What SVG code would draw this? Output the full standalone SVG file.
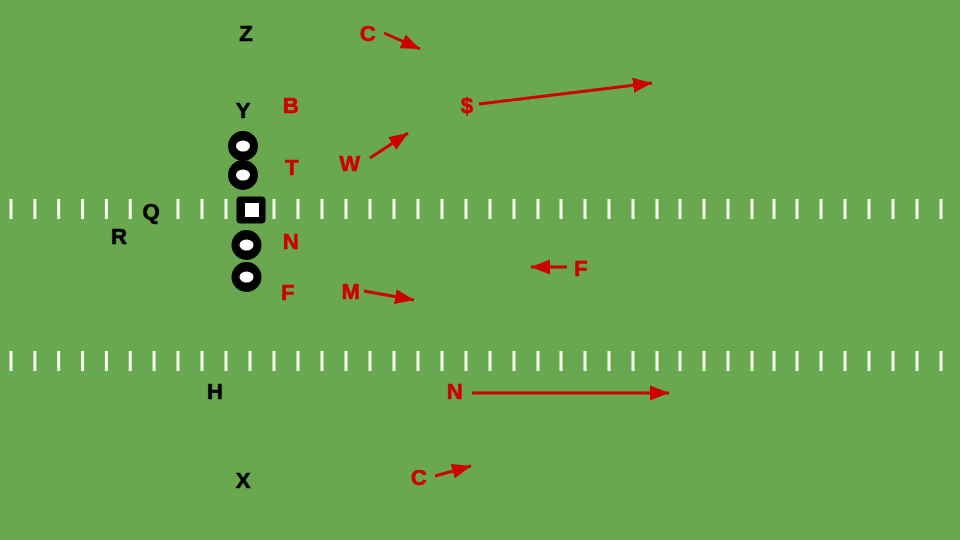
<svg xmlns="http://www.w3.org/2000/svg" width="960" height="540" viewBox="0 0 960 540">
<defs>
<style>
.t{font-family:"Liberation Sans",Arial,sans-serif;font-weight:bold;font-size:22px;text-anchor:middle;stroke-width:0.6}
.k{fill:#000;stroke:#000}
.r{fill:#cc0000;stroke:#cc0000}
.h{stroke:#f6fff0;stroke-width:3}
.a{stroke:#cc0000;stroke-width:3;fill:none;marker-end:url(#ah)}
.ring{fill:#000}
.hole{fill:#fff}
</style>
<marker id="ah" markerUnits="userSpaceOnUse" markerWidth="22" markerHeight="16" refX="19" refY="7.5" orient="auto" viewBox="0 0 22 15">
<path d="M0,0 L19,7.5 L0,15 Z" fill="#cc0000"/>
</marker>
</defs>
<rect x="0" y="0" width="960" height="540" fill="#6aa84f"/>
<g id="hashes">
<g id="hash-upper">
<line class="h" x1="11" y1="199" x2="11" y2="219"/>
<line class="h" x1="34.85" y1="199" x2="34.85" y2="219"/>
<line class="h" x1="58.7" y1="199" x2="58.7" y2="219"/>
<line class="h" x1="82.55" y1="199" x2="82.55" y2="219"/>
<line class="h" x1="106.4" y1="199" x2="106.4" y2="219"/>
<line class="h" x1="130.25" y1="199" x2="130.25" y2="219"/>
<line class="h" x1="178" y1="199" x2="178" y2="219"/>
<line class="h" x1="202" y1="199" x2="202" y2="219"/>
<line class="h" x1="226" y1="199" x2="226" y2="219"/>
<line class="h" x1="250" y1="199" x2="250" y2="219"/>
<line class="h" x1="274" y1="199" x2="274" y2="219"/>
<line class="h" x1="298" y1="199" x2="298" y2="219"/>
<line class="h" x1="322" y1="199" x2="322" y2="219"/>
<line class="h" x1="346" y1="199" x2="346" y2="219"/>
<line class="h" x1="370" y1="199" x2="370" y2="219"/>
<line class="h" x1="394" y1="199" x2="394" y2="219"/>
<line class="h" x1="418" y1="199" x2="418" y2="219"/>
<line class="h" x1="442" y1="199" x2="442" y2="219"/>
<line class="h" x1="466" y1="199" x2="466" y2="219"/>
<line class="h" x1="490" y1="199" x2="490" y2="219"/>
<line class="h" x1="514" y1="199" x2="514" y2="219"/>
<line class="h" x1="538" y1="199" x2="538" y2="219"/>
<line class="h" x1="561" y1="199" x2="561" y2="219"/>
<line class="h" x1="585" y1="199" x2="585" y2="219"/>
<line class="h" x1="609" y1="199" x2="609" y2="219"/>
<line class="h" x1="633" y1="199" x2="633" y2="219"/>
<line class="h" x1="657" y1="199" x2="657" y2="219"/>
<line class="h" x1="680" y1="199" x2="680" y2="219"/>
<line class="h" x1="704" y1="199" x2="704" y2="219"/>
<line class="h" x1="728" y1="199" x2="728" y2="219"/>
<line class="h" x1="752" y1="199" x2="752" y2="219"/>
<line class="h" x1="774" y1="199" x2="774" y2="219"/>
<line class="h" x1="797" y1="199" x2="797" y2="219"/>
<line class="h" x1="821" y1="199" x2="821" y2="219"/>
<line class="h" x1="845" y1="199" x2="845" y2="219"/>
<line class="h" x1="869" y1="199" x2="869" y2="219"/>
<line class="h" x1="893" y1="199" x2="893" y2="219"/>
<line class="h" x1="917" y1="199" x2="917" y2="219"/>
<line class="h" x1="941" y1="199" x2="941" y2="219"/>
</g>
<g id="hash-lower">
<line class="h" x1="11" y1="351" x2="11" y2="371"/>
<line class="h" x1="34.85" y1="351" x2="34.85" y2="371"/>
<line class="h" x1="58.7" y1="351" x2="58.7" y2="371"/>
<line class="h" x1="82.55" y1="351" x2="82.55" y2="371"/>
<line class="h" x1="106.4" y1="351" x2="106.4" y2="371"/>
<line class="h" x1="130.25" y1="351" x2="130.25" y2="371"/>
<line class="h" x1="154.1" y1="351" x2="154.1" y2="371"/>
<line class="h" x1="178" y1="351" x2="178" y2="371"/>
<line class="h" x1="202" y1="351" x2="202" y2="371"/>
<line class="h" x1="226" y1="351" x2="226" y2="371"/>
<line class="h" x1="250" y1="351" x2="250" y2="371"/>
<line class="h" x1="274" y1="351" x2="274" y2="371"/>
<line class="h" x1="298" y1="351" x2="298" y2="371"/>
<line class="h" x1="322" y1="351" x2="322" y2="371"/>
<line class="h" x1="346" y1="351" x2="346" y2="371"/>
<line class="h" x1="370" y1="351" x2="370" y2="371"/>
<line class="h" x1="394" y1="351" x2="394" y2="371"/>
<line class="h" x1="418" y1="351" x2="418" y2="371"/>
<line class="h" x1="442" y1="351" x2="442" y2="371"/>
<line class="h" x1="466" y1="351" x2="466" y2="371"/>
<line class="h" x1="490" y1="351" x2="490" y2="371"/>
<line class="h" x1="514" y1="351" x2="514" y2="371"/>
<line class="h" x1="538" y1="351" x2="538" y2="371"/>
<line class="h" x1="561" y1="351" x2="561" y2="371"/>
<line class="h" x1="585" y1="351" x2="585" y2="371"/>
<line class="h" x1="609" y1="351" x2="609" y2="371"/>
<line class="h" x1="633" y1="351" x2="633" y2="371"/>
<line class="h" x1="657" y1="351" x2="657" y2="371"/>
<line class="h" x1="680" y1="351" x2="680" y2="371"/>
<line class="h" x1="704" y1="351" x2="704" y2="371"/>
<line class="h" x1="728" y1="351" x2="728" y2="371"/>
<line class="h" x1="752" y1="351" x2="752" y2="371"/>
<line class="h" x1="774" y1="351" x2="774" y2="371"/>
<line class="h" x1="797" y1="351" x2="797" y2="371"/>
<line class="h" x1="821" y1="351" x2="821" y2="371"/>
<line class="h" x1="845" y1="351" x2="845" y2="371"/>
<line class="h" x1="869" y1="351" x2="869" y2="371"/>
<line class="h" x1="893" y1="351" x2="893" y2="371"/>
<line class="h" x1="917" y1="351" x2="917" y2="371"/>
<line class="h" x1="941" y1="351" x2="941" y2="371"/>
</g>
</g>
<g id="line-players">
<g id="ol1"><circle class="ring" cx="243" cy="146" r="15"/><ellipse class="hole" cx="243" cy="146" rx="7" ry="5.5"/></g>
<g id="ol2"><circle class="ring" cx="243" cy="175" r="15"/><ellipse class="hole" cx="243" cy="175" rx="7" ry="5.5"/></g>
<g id="center"><rect class="ring" x="236.5" y="196.5" width="29" height="27" rx="4"/><rect class="hole" x="245" y="203" width="14" height="14"/></g>
<g id="ol3"><circle class="ring" cx="246.5" cy="245" r="15"/><ellipse class="hole" cx="246.5" cy="245" rx="7" ry="5.5"/></g>
<g id="ol4"><circle class="ring" cx="246.5" cy="277" r="15"/><ellipse class="hole" cx="246.5" cy="277" rx="7" ry="5.5"/></g>
</g>
<g id="connectors">
<line class="a" x1="384" y1="33" x2="420" y2="49"/>
<line class="a" x1="479" y1="104" x2="652" y2="83"/>
<line class="a" x1="370" y1="158" x2="408" y2="133"/>
<line class="a" x1="364" y1="291" x2="414" y2="300"/>
<line class="a" x1="567" y1="267" x2="531" y2="267"/>
<line class="a" x1="472" y1="393" x2="669" y2="393"/>
<line class="a" x1="435" y1="476" x2="471" y2="466"/>
</g>
<g id="off-Z"><text class="t k" x="246" y="41">Z</text></g>
<g id="off-Y"><text class="t k" x="243" y="118">Y</text></g>
<g id="off-Q"><text class="t k" x="151" y="219">Q</text></g>
<g id="off-R"><text class="t k" x="119" y="244">R</text></g>
<g id="off-H"><text class="t k" x="215" y="399">H</text></g>
<g id="off-X"><text class="t k" x="243" y="488">X</text></g>
<g id="def-C1"><text class="t r" x="368" y="41">C</text></g>
<g id="def-B"><text class="t r" x="291" y="113">B</text></g>
<g id="def-S"><text class="t r" x="467" y="113">$</text></g>
<g id="def-T"><text class="t r" x="292" y="175">T</text></g>
<g id="def-W"><text class="t r" x="350" y="171">W</text></g>
<g id="def-N1"><text class="t r" x="291" y="249">N</text></g>
<g id="def-F1"><text class="t r" x="288" y="300">F</text></g>
<g id="def-M"><text class="t r" x="351" y="299">M</text></g>
<g id="def-F2"><text class="t r" x="581" y="276">F</text></g>
<g id="def-N2"><text class="t r" x="455" y="399">N</text></g>
<g id="def-C2"><text class="t r" x="419" y="485">C</text></g>
</svg>
